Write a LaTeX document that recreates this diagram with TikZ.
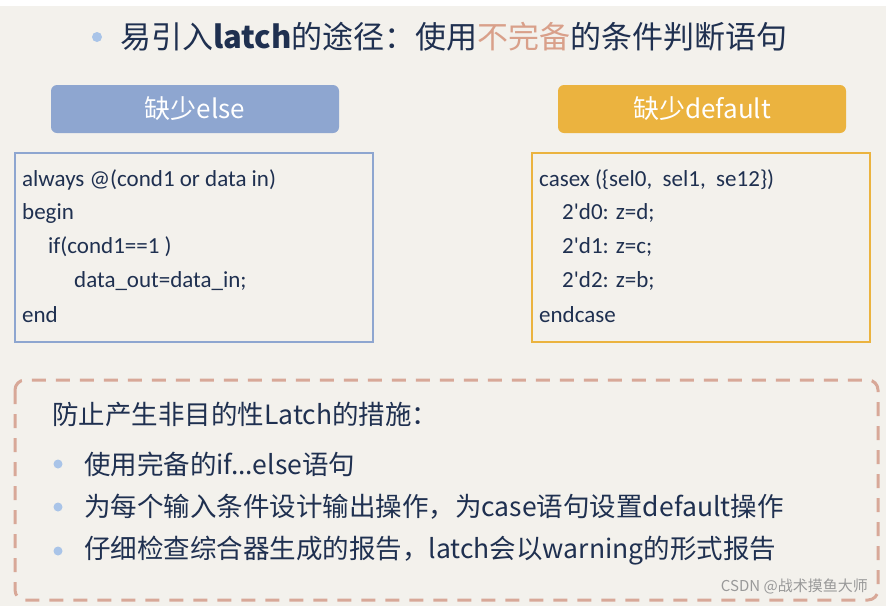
\documentclass[tikz,border=0pt]{standalone}
\usepackage{fontspec}
\setmainfont{Noto Sans CJK SC}
\newfontfamily\codefont{Carlito}
\font\aposfont="Carlito" at 23pt
\definecolor{bg}{HTML}{F3F1EC}
\definecolor{navy}{HTML}{1F3050}
\definecolor{lblue}{HTML}{A9C4E8}
\definecolor{bbox}{HTML}{8EA6D0}
\definecolor{obox}{HTML}{EBB33F}
\definecolor{pinkish}{HTML}{D9A08A}
\definecolor{dashcol}{HTML}{D8A898}
\newcommand{\apos}{{\aposfont '}}
\begin{document}
\begin{tikzpicture}[x=1pt,y=-1pt,
  code/.style={anchor=west,inner sep=0pt,text=navy,font=\codefont\fontsize{23}{26}\selectfont},
  pt/.style={anchor=west,inner sep=0pt,text=navy,font=\fontsize{26.5}{30}\selectfont},
  dotb/.style={fill=lblue,draw=none}]
\useasboundingbox (0,0) rectangle (886,606);
\fill[bg] (0,6) rectangle (886,606);
\fill[dotb] (97,37) circle (5);
\node[anchor=west,inner sep=0pt,text=navy,font=\fontsize{31}{35}\selectfont] (title) at (120,37) {易引入\textbf{latch}的途径：使用\textcolor{pinkish}{不完备}的条件判断语句};
\fill[rounded corners=6pt,fill=bbox] (51,85) rectangle (339,133);
\node[text=white,font=\fontsize{26}{30}\selectfont] (h1) at (195,109) {缺少else};
\fill[rounded corners=6pt,fill=obox] (558,85) rectangle (846,133);
\node[text=white,font=\fontsize{26}{30}\selectfont] (h2) at (702,109) {缺少default};
\draw[bbox,line width=2pt] (15,153) rectangle (373,342);
\draw[obox,line width=2pt] (532,153) rectangle (870,342);
\node[code] (a1) at (22,180) {always @(cond1 or data in)};
\node[code] (a2) at (22,213) {begin};
\node[code] (a3) at (48,247) {if(cond1==1 )};
\node[code] (a4) at (74,281) {data\_out=data\_in;};
\node[code] (a5) at (22,315) {end};
\node[code] (b1) at (539,180) {casex (\{sel0,\ \ sel1,\ \ se12\})};
\node[code] (b2) at (562,213) {2\apos d0: z=d;};
\node[code] (b3) at (562,247) {2\apos d1: z=c;};
\node[code] (b4) at (562,281) {2\apos d2: z=b;};
\node[code] (b5) at (539,315) {endcase};
\draw[dashcol,line width=3pt,dash pattern=on 14pt off 10pt,rounded corners=10pt] (15,380) rectangle (878,600);
\node[pt] (p0) at (52,414) {防止产生非目的性Latch的措施：};
\fill[dotb] (58,464) circle (4.5);
\fill[dotb] (58,507) circle (4.5);
\fill[dotb] (58,551) circle (4.5);
\node[pt] (p1) at (84,464) {使用完备的if...else语句};
\node[pt] (p2) at (84,507) {为每个输入条件设计输出操作，为case语句设置default操作};
\node[pt] (p3) at (84,551) {仔细检查综合器生成的报告，latch会以warning的形式报告};
\node[anchor=east,inner sep=0pt,text=gray!80,font=\fontsize{15}{17}\selectfont] (wm) at (868,586) {CSDN @战术摸鱼大师};
\end{tikzpicture}
\end{document}
